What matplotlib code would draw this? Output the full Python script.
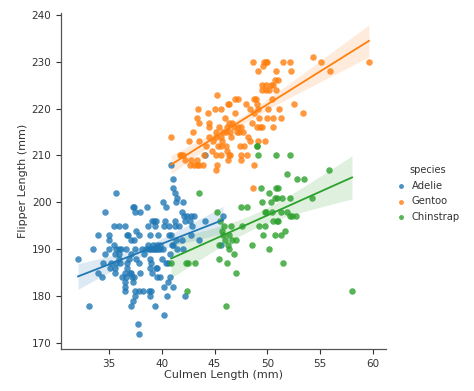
import numpy as np
import matplotlib
matplotlib.use("Agg")
import matplotlib.pyplot as plt

# values (culmen length, flipper length)
adelie_culmen = [32.1, 33.1, 33.5, 34.0, 34.6, 34.6, 34.5, 34.0, 34.4, 35.7,
                 35.0, 35.0, 35.0, 35.5, 36.0, 36.5, 35.5, 35.7, 36.0, 36.2,
                 35.6, 36.0, 35.2, 35.6, 35.7, 36.1, 36.0, 35.1, 35.6, 36.5,
                 36.3, 36.6, 36.5, 36.5, 36.5, 36.7, 36.8, 36.6, 36.7, 37.0,
                 36.7, 37.3, 37.4, 37.5, 37.6, 37.1, 37.2, 37.1, 37.4, 37.3,
                 37.5, 37.5, 37.3, 37.6, 37.5, 37.1, 37.1, 37.4, 37.8, 37.9,
                 37.9, 38.2, 38.0, 37.9, 38.1, 38.5, 37.9, 38.0, 38.6, 38.7,
                 38.9, 38.7, 38.8, 39.0, 39.2, 39.4, 39.5, 38.9, 39.0, 38.9,
                 38.8, 39.0, 38.9, 39.4, 39.1, 39.5, 39.6, 39.6, 39.1, 39.3,
                 39.5, 39.4, 39.7, 39.8, 39.6, 39.8, 39.7, 40.0, 39.8, 40.1,
                 40.4, 40.3, 40.2, 40.1, 40.2, 40.2, 40.5, 40.4, 40.6, 40.7,
                 40.7, 40.6, 40.8, 40.9, 41.1, 41.1, 41.3, 41.5, 41.3, 41.3,
                 41.1, 41.0, 41.1, 41.4, 41.6, 41.4, 41.5, 40.8, 42.0, 41.9,
                 42.2, 42.1, 42.0, 41.9, 42.2, 42.4, 42.7, 42.8, 42.9, 43.1,
                 42.8, 44.1, 44.1, 45.6, 45.8, 43.5, 38.3, 39.2, 36.9, 40.9]
adelie_flipper = [188, 178, 190, 193, 198, 189, 187, 185, 184, 202,
                  190, 193, 192, 195, 195, 195, 191, 190, 190, 190,
                  189, 189, 187, 186, 187, 187, 188, 186, 185, 185,
                  184, 184, 183, 182, 181, 193, 193, 190, 187, 185,
                  186, 199, 199, 198, 194, 178, 184, 185, 184, 183,
                  181, 180, 179, 188, 190, 189, 192, 192, 174, 172,
                  181, 181, 185, 187, 190, 190, 193, 198, 199, 195,
                  193, 191, 190, 190, 190, 190, 190, 188, 187, 186,
                  181, 181, 180, 178, 185, 186, 184, 186, 196, 196,
                  196, 195, 193, 191, 191, 190, 190, 188, 184, 200,
                  199, 196, 195, 190, 182, 176, 180, 187, 187, 193,
                  195, 183, 184, 208, 205, 203, 202, 201, 196, 195,
                  191, 191, 182, 200, 195, 192, 190, 189, 200, 198,
                  196, 197, 190, 192, 180, 197, 196, 197, 195, 197,
                  193, 210, 196, 191, 197, 192, 189, 191, 188, 193]

gentoo_culmen = [40.9, 41.7, 42.0, 41.8, 42.2, 42.6, 42.8, 42.7, 43.1, 43.3,
                 43.5, 43.9, 43.3, 43.0, 43.4, 43.3, 43.5, 43.5, 44.4, 44.5,
                 44.5, 44.5, 44.9, 45.0, 45.2, 45.1, 45.1, 45.1, 45.2, 45.1,
                 45.3, 45.6, 45.6, 45.6, 45.6, 45.7, 45.8, 46.0, 46.1, 46.2,
                 46.3, 46.4, 46.5, 46.4, 46.2, 46.3, 46.4, 46.5, 46.6, 46.8,
                 46.9, 46.9, 47.2, 47.1, 47.2, 47.3, 47.4, 47.5, 47.5, 47.5,
                 47.7, 48.0, 48.1, 48.2, 48.4, 48.4, 48.6, 48.7, 48.7, 48.7,
                 48.6, 48.9, 49.0, 49.0, 49.1, 49.1, 49.2, 49.1, 49.3, 49.5,
                 49.5, 49.5, 49.6, 49.7, 49.9, 49.9, 49.9, 49.8, 50.0, 50.0,
                 50.2, 50.3, 50.4, 50.5, 50.5, 50.5, 50.7, 50.8, 50.8, 51.0,
                 51.1, 51.3, 51.5, 52.1, 52.2, 52.5, 53.4, 54.3, 55.1, 55.9,
                 59.6, 44.2, 44.8, 45.4, 46.7, 47.8, 48.5, 50.1, 46.1, 44.0]
gentoo_flipper = [214, 210, 210, 210, 209, 213, 209, 208, 208, 208,
                  208, 208, 209, 215, 220, 218, 217, 213, 219, 217,
                  216, 214, 213, 220, 223, 215, 214, 210, 208, 207,
                  212, 220, 214, 212, 210, 213, 215, 218, 215, 216,
                  221, 217, 215, 221, 211, 209, 210, 210, 214, 216,
                  222, 219, 222, 215, 216, 215, 212, 210, 209, 216,
                  215, 221, 210, 214, 220, 213, 203, 222, 219, 208,
                  230, 222, 221, 216, 228, 220, 218, 213, 216, 216,
                  225, 224, 229, 230, 230, 225, 224, 213, 230, 218,
                  224, 225, 222, 225, 218, 216, 226, 228, 224, 226,
                  220, 218, 230, 230, 228, 221, 219, 231, 230, 228,
                  230, 212, 211, 216, 217, 212, 217, 220, 212, 210]

chinstrap_culmen = [40.9, 42.3, 42.5, 43.2, 42.4, 43.5, 45.2, 45.4, 45.5, 45.4,
                    45.7, 45.8, 45.9, 46.0, 46.1, 46.2, 46.3, 46.4, 46.4, 46.6,
                    46.7, 46.8, 47.0, 47.0, 47.5, 48.1, 47.6, 48.5, 49.0, 49.1,
                    49.0, 49.4, 49.2, 49.5, 49.6, 49.8, 49.8, 49.9, 50.2, 50.2,
                    50.3, 50.4, 50.5, 50.7, 50.7, 50.8, 50.8, 50.9, 50.9, 51.0,
                    51.0, 51.3, 51.3, 51.4, 51.5, 51.7, 51.9, 51.9, 52.1, 52.1,
                    52.1, 52.3, 52.7, 52.8, 53.5, 54.2, 55.8, 58.0]
chinstrap_flipper = [187, 187, 187, 187, 181, 202, 198, 188, 196, 191,
                     194, 193, 195, 192, 178, 187, 191, 190, 193, 195,
                     192, 189, 185, 192, 199, 199, 195, 191, 212, 210,
                     212, 203, 195, 200, 193, 195, 198, 198, 190, 202,
                     200, 198, 196, 201, 193, 203, 210, 201, 196, 203,
                     196, 198, 193, 201, 187, 194, 198, 206, 210, 201,
                     197, 197, 197, 205, 205, 201, 207, 181]

species = ["Adelie", "Gentoo", "Chinstrap"]
colors = ["#1f77b4", "#ff7f0e", "#2ca02c"]
data = [(adelie_culmen, adelie_flipper),
        (gentoo_culmen, gentoo_flipper),
        (chinstrap_culmen, chinstrap_flipper)]

plt.rcParams["font.family"] = "DejaVu Sans"
fig = plt.figure(figsize=(4.74, 3.91), dpi=100)
ax = fig.add_axes([0.129, 0.107, 0.685, 0.86])

for name, col, (xs, ys) in zip(species, colors, data):
    x = np.array(xs, dtype=float)
    y = np.array(ys, dtype=float)
    ax.scatter(x, y, s=22, color=col, alpha=0.8, linewidths=0, label=name, zorder=3)
    # linear fit with 95% confidence band
    b, a = np.polyfit(x, y, 1)
    grid = np.linspace(x.min(), x.max(), 100)
    fit = a + b * grid
    n = len(x)
    resid = y - (a + b * x)
    s = np.sqrt(np.sum(resid ** 2) / (n - 2))
    se = s * np.sqrt(1.0 / n + (grid - x.mean()) ** 2 / np.sum((x - x.mean()) ** 2))
    ax.plot(grid, fit, color=col, lw=1.3, zorder=4)
    ax.fill_between(grid, fit - 1.97 * se, fit + 1.97 * se, color=col, alpha=0.15,
                    linewidth=0, zorder=2)

ax.set_xlim(30.5, 61.2)
ax.set_ylim(168.7, 240.4)
ax.set_xticks([35, 40, 45, 50, 55, 60])
ax.set_yticks([170, 180, 190, 200, 210, 220, 230, 240])
ax.spines["top"].set_visible(False)
ax.spines["right"].set_visible(False)
for sp in ["left", "bottom"]:
    ax.spines[sp].set_color("#555555")
    ax.spines[sp].set_linewidth(0.9)
ax.tick_params(labelsize=7.5, colors="#333333", length=3.5, width=0.8)
ax.set_xlabel("Culmen Length (mm)", fontsize=8, color="#333333", labelpad=1)
ax.set_ylabel("Flipper Length (mm)", fontsize=8, color="#333333", labelpad=3)

leg = fig.legend(*ax.get_legend_handles_labels(), title="species", loc="center left",
                 bbox_to_anchor=(0.818, 0.505), frameon=False, fontsize=7.2,
                 title_fontsize=7, markerscale=0.75, handletextpad=0.5,
                 handlelength=1.2, labelspacing=0.55, borderpad=0.2)
for t in leg.get_texts():
    t.set_color("#333333")
leg.get_title().set_color("#333333")

fig.savefig("out.png", dpi=100)
